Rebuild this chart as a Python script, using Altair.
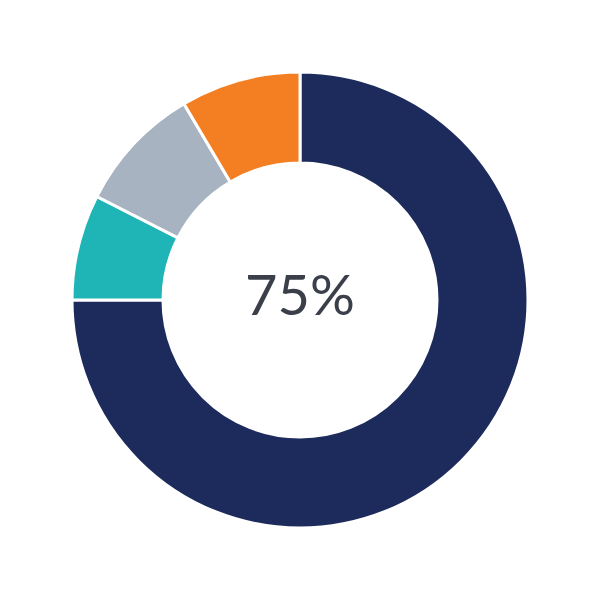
import altair as alt
import pandas as pd

categories = ["A", "B", "C", "D"]
values = [75, 7.5, 9, 8.5]
colors = ["#1c2b5b", "#1fb4b6", "#a8b3c2", "#f37f22"]
center_label = ["75%"]

df = pd.DataFrame({"cat": categories, "value": values, "order": list(range(len(categories)))})

arc = alt.Chart(df).mark_arc(innerRadius=137, outerRadius=228, stroke="white", strokeWidth=3).encode(
    theta=alt.Theta("value:Q", stack=True),
    order=alt.Order("order:Q"),
    color=alt.Color("cat:N", scale=alt.Scale(domain=categories, range=colors), legend=None),
)

text = alt.Chart(pd.DataFrame({"t": center_label})).mark_text(
    font="Lato", fontSize=56, color="#3a3f4a", align="center", baseline="middle"
).encode(
    text="t:N",
    x=alt.value(292),
    y=alt.value(290),
)

chart = alt.layer(arc, text).properties(
    width=584, height=584, padding=0, autosize=alt.AutoSizeParams(type="none")
).configure_view(stroke=None)

chart.save("out.html", embed_options={"renderer": "svg", "actions": False})
